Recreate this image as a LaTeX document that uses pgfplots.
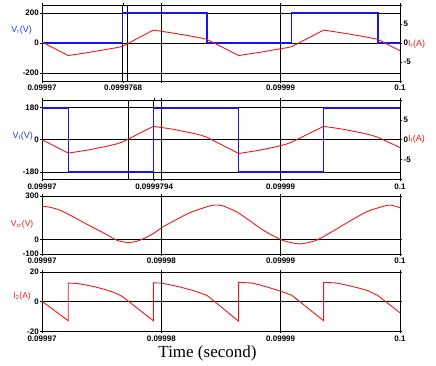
\documentclass[border=0pt]{standalone}
\usepackage{pgfplots}
\pgfplotsset{compat=1.18}
\usepackage{fontspec}
\setmainfont{Liberation Serif}
\setsansfont{Liberation Sans}
\definecolor{myblue}{RGB}{20,20,240}
\definecolor{myred}{RGB}{235,25,25}
\definecolor{lblblue}{RGB}{40,60,230}
\pgfplotsset{
  base/.style={
    scale only axis, width=358pt, xmin=0, xmax=30,
    xtick={0,10,20,30},
    grid=major, major grid style={black, line width=0.6pt},
    axis line style={black, line width=0.8pt},
    tick align=outside, major tick length=2pt,
    tick style={black, line width=0.6pt},
    ticklabel style={font=\sffamily\bfseries\fontsize{8}{9}\selectfont},
    /pgf/number format/assume math mode=true,
    xticklabel style={inner sep=1pt, yshift=-1.2pt},
    yticklabel style={inner sep=1pt},
  },
  rightax/.style={
    scale only axis, width=358pt, xmin=0, xmax=30,
    axis x line=none, axis y line*=right,
    ymin=-10, ymax=10, ytick={-10,-5,0,5,10}, yticklabels={,-5,0,5,},
    axis line style={black, line width=0.8pt},
    tick align=outside, major tick length=2pt,
    tick style={black, line width=0.6pt},
    ticklabel style={font=\sffamily\bfseries\fontsize{8}{9}\selectfont},
    yticklabel style={inner sep=1.5pt},
  },
}
\pgfplotstableread{
u v
0 0.25
2.2 -3.3
3.04 -2.9
3.88 -2.5
4.71 -2.05
5.55 -1.6
6.22 -1.25
6.73 -0.9
9.33 3.4
10.17 3.0
11.01 2.6
11.84 2.15
12.68 1.7
13.35 1.3
13.83 0.95
16.48 -3.3
17.32 -2.9
18.16 -2.5
18.99 -2.05
19.83 -1.6
20.5 -1.25
20.94 -0.95
23.6 3.4
24.44 3.0
25.28 2.6
26.11 2.15
26.95 1.7
27.62 1.3
28.15 0.95
30 -2.05
}\Irdata
\pgfplotstableread{
u v
0 0.0
2.2 -3.4
3.04 -3.0
3.88 -2.6
4.71 -2.1
5.55 -1.6
6.22 -1.1
6.73 -0.6
9.33 3.35
10.17 3.0
11.01 2.6
11.84 2.1
12.68 1.6
13.35 1.1
13.83 0.6
16.48 -3.5
17.32 -3.1
18.16 -2.7
18.99 -2.2
19.83 -1.65
20.5 -1.1
20.94 -0.6
23.6 3.35
24.44 3.0
25.28 2.6
26.11 2.1
26.95 1.6
27.62 1.1
28.15 0.6
30 -2.0
}\Itdata
\pgfplotstableread{
u v
0 229
0.67 222
1.51 202
2.62 156
4.02 94
5.42 34
6.12 0
6.7 -15
7.23 -21
7.8 -15
8.35 0
9.33 41
10.03 82
11.0 126
12.4 185
13.8 225
14.5 238
15.06 234
15.59 218
16.42 185
17.54 122
18.66 58
20.0 0
20.78 -20
21.6 -30
22.37 -20
23.13 0
24.53 65
25.92 133
27.32 195
28.72 231
29.27 236
30 220
}\Vcrdata
\pgfplotstableread{
u v
0 0.3
2.2 -12.9
2.2 12.5
2.7 12.35
3.18 12.0
3.9 10.9
4.58 9.7
5.3 8.1
5.97 6.4
6.4 4.9
6.73 3.5
9.33 -12.9
9.33 12.7
10.03 12.5
11.0 10.9
11.7 9.6
12.4 8.1
13.1 6.4
13.83 4.2
16.48 -13.2
16.48 13.0
17.54 12.6
18.24 11.3
18.94 9.7
20.0 7.0
20.94 4.3
23.6 -12.9
23.6 13.0
24.53 12.7
25.22 11.7
25.92 10.4
26.62 9.0
27.32 7.4
28.15 4.1
30 -7.5
}\Itwodata
\begin{document}
\begin{tikzpicture}[x=1pt,y=1pt]
\path[use as bounding box] (0,0) rectangle (436,365);
% ---------- Panel 1 ----------
\begin{axis}[base, at={(42pt,284pt)}, anchor=south west, height=76pt,
  ymin=-253, ymax=253, ytick={-200,0,200}, ytick pos=left,
  xticklabels={0.09997,,0.09999,0.1},
  extra x ticks={6.8}, extra x tick labels={0.0999768},
  extra x tick style={grid=none}]
\addplot[black, line width=0.6pt] coordinates {(6.73,-300) (6.73,300)};
\addplot[black, line width=0.6pt] coordinates {(7.12,-300) (7.12,300)};
\addplot[myblue, line width=1.2pt] coordinates {(0,0) (6.73,0) (6.73,200) (13.83,200) (13.83,0) (20.94,0) (20.94,200) (28.15,200) (28.15,0) (30,0)};
\end{axis}
\begin{axis}[rightax, at={(42pt,284pt)}, anchor=south west, height=76pt]
\addplot[myred, line width=0.9pt] table[x=u, y=v] {\Irdata};
\end{axis}
% ---------- Panel 2 ----------
\begin{axis}[base, at={(42pt,185.7pt)}, anchor=south west, height=79.3pt,
  ymin=-222, ymax=222, ytick={-180,0,180}, ytick pos=left,
  xticklabels={0.09997,,0.09999,0.1},
  extra x ticks={9.4}, extra x tick labels={0.0999794},
  extra x tick style={grid=none}]
\addplot[black, line width=0.6pt] coordinates {(7.23,-300) (7.23,300)};
\addplot[black, line width=0.6pt] coordinates {(9.33,-300) (9.33,300)};
\addplot[myblue, line width=2pt] coordinates {(0,180) (2.2,180)};
\addplot[myblue, line width=1.3pt] coordinates {(2.2,180) (2.2,-180)};
\addplot[myblue, line width=2pt] coordinates {(2.2,-180) (9.33,-180)};
\addplot[myblue, line width=1.3pt] coordinates {(9.33,-180) (9.33,180)};
\addplot[myblue, line width=2pt] coordinates {(9.33,180) (16.48,180)};
\addplot[myblue, line width=1.3pt] coordinates {(16.48,180) (16.48,-180)};
\addplot[myblue, line width=2pt] coordinates {(16.48,-180) (23.6,-180)};
\addplot[myblue, line width=1.3pt] coordinates {(23.6,-180) (23.6,180)};
\addplot[myblue, line width=2pt] coordinates {(23.6,180) (30,180)};
\end{axis}
\begin{axis}[rightax, at={(42pt,185.7pt)}, anchor=south west, height=79.3pt]
\addplot[myred, line width=0.9pt] table[x=u, y=v] {\Itdata};
\end{axis}
% ---------- Panel 3 ----------
\begin{axis}[base, at={(42pt,111pt)}, anchor=south west, height=58pt,
  ymin=-100, ymax=300, ytick={-100,0,300},
  xticklabels={0.09997,0.09998,0.09999,0.1}]
\addplot[myred, line width=0.9pt, smooth, tension=0.5] table[x=u, y=v] {\Vcrdata};
\end{axis}
% ---------- Panel 4 ----------
\begin{axis}[base, at={(42pt,33.7pt)}, anchor=south west, height=59.3pt,
  ymin=-20, ymax=20, ytick={-20,0,20},
  xticklabels={0.09997,0.09998,0.09999,0.1}]
\addplot[myred, line width=0.9pt] table[x=u, y=v] {\Itwodata};
\end{axis}
% ---------- labels ----------
\node[anchor=east, inner sep=0pt, text=lblblue, font=\sffamily\fontsize{9}{10}\selectfont] at (32,335) {V\textsubscript{r}(V)};
\node[anchor=west, inner sep=0pt, text=myred, font=\sffamily\fontsize{9}{10}\selectfont] at (408,320.5) {I\textsubscript{r}(A)};
\node[anchor=east, inner sep=0pt, text=lblblue, font=\sffamily\fontsize{9}{10}\selectfont] at (33,229) {V\textsubscript{t}(V)};
\node[anchor=west, inner sep=0pt, text=myred, font=\sffamily\fontsize{9}{10}\selectfont] at (408,225.5) {I\textsubscript{t}(A)};
\node[anchor=east, inner sep=0pt, text=myred, font=\sffamily\fontsize{8.5}{10}\selectfont] at (33.5,140.5) {V\textsubscript{cr}(V)};
\node[anchor=east, inner sep=0pt, text=myred, font=\sffamily\fontsize{8.5}{10}\selectfont] at (31,69) {I\textsubscript{2}(A)};
\node[inner sep=0pt, font=\fontsize{17}{19}\selectfont] at (207.5,11.5) {Time (second)};
\end{tikzpicture}
\end{document}
